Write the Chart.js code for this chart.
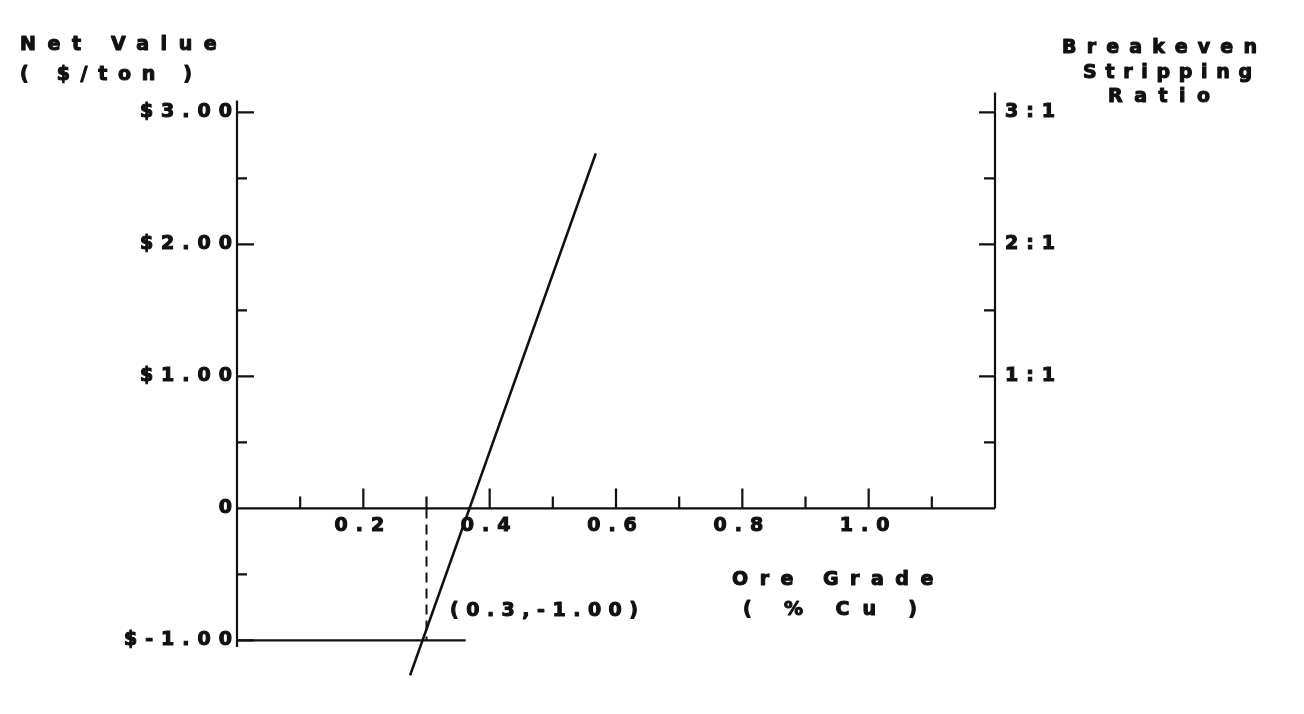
<!DOCTYPE html>
<html>
<head>
<meta charset="utf-8">
<title>Net Value vs Ore Grade</title>
<script src="https://cdn.jsdelivr.net/npm/chart.js@4.4.1/dist/chart.umd.min.js"></script>
<style>
  html, body { margin: 0; padding: 0; background: #fff; }
  #wrap { position: relative; width: 1304px; height: 714px; }
</style>
</head>
<body>
<div id="wrap"><canvas id="chart"></canvas></div>
<script>
// --- Data ---
// Ore grade axis (% Cu)
const gradeTicks = [0.1, 0.2, 0.3, 0.4, 0.5, 0.6, 0.7, 0.8, 0.9, 1.0, 1.1];
const gradeLabels = ['', '0.2', '', '0.4', '', '0.6', '', '0.8', '', '1.0', ''];
// Net value axis ($/ton)
const valueTicks = [-1, -0.5, 0, 0.5, 1, 1.5, 2, 2.5, 3];
const valueLabels = ['$-1.00', '', '0', '', '$1.00', '', '$2.00', '', '$3.00'];
// Breakeven stripping ratio axis
const ratioTicks = [0.5, 1, 1.5, 2, 2.5, 3];
const ratioLabels = ['', '1:1', '', '2:1', '', '3:1'];

// Net value line
const netGrade = [0.274, 0.568];
const netValue = [-1.265, 2.69];

// Cut-off grade marker (dashed) and the -1.00 reference line
const cutoffGrade = [0.3, 0.3];
const cutoffValue = [0, -1.0];
const lossGrade = [0, 0.362];
const lossValue = [-1.0, -1.0];

// --- Style ---
const ink = '#111';
const fontFamily = '"DejaVu Sans", Verdana, sans-serif';
const tickFont = { family: fontFamily, size: 19, weight: 'bold' };
const tickSpacing = '8px';

// extent of the drawn axis lines (in data units)
const gradeMax = 1.2;
const leftAxisFrom = -1.05, leftAxisTo = 3.09;
const rightAxisTo = 3.15;

const titles = [
  { text: 'Net Value', x: 20, y: 45, w: 197 },
  { text: '( $/ton )', x: 20, y: 75, w: 172 },
  { text: 'Breakeven', x: 1062, y: 48, w: 195 },
  { text: 'Stripping', x: 1083, y: 73, w: 169 },
  { text: 'Ratio', x: 1108, y: 97, w: 102 },
  { text: 'Ore Grade', x: 732, y: 580, w: 201 },
  { text: '( % Cu )', x: 743, y: 610, w: 174 },
  { text: '(0.3,-1.00)', x: 450, y: 611, w: 188 }
];

function pts(xs, ys) {
  return xs.map((v, i) => ({ x: v, y: ys[i] }));
}

// axes, tick marks and captions in the old plotter style
const plotterAxes = {
  id: 'plotterAxes',
  beforeDraw(chart) {
    chart.ctx.letterSpacing = tickSpacing;
  },
  beforeDatasetsDraw(chart) {
    const { ctx } = chart;
    const { x, y, y2 } = chart.scales;
    const x0 = x.getPixelForValue(0);
    const x1 = x.getPixelForValue(gradeMax);
    const yZero = y.getPixelForValue(0);

    ctx.save();
    ctx.strokeStyle = ink;
    ctx.lineWidth = 2.2;
    ctx.beginPath();
    ctx.moveTo(x0, y.getPixelForValue(leftAxisFrom));
    ctx.lineTo(x0, y.getPixelForValue(leftAxisTo));
    ctx.moveTo(x0, yZero);
    ctx.lineTo(x1, yZero);
    ctx.moveTo(x1, y2.getPixelForValue(0));
    ctx.lineTo(x1, y2.getPixelForValue(rightAxisTo));

    gradeTicks.forEach((v, i) => {
      const px = x.getPixelForValue(v);
      ctx.moveTo(px, yZero);
      ctx.lineTo(px, yZero - (gradeLabels[i] ? 20 : 12));
    });
    valueTicks.forEach((v, i) => {
      if (v === 0) return;
      const py = y.getPixelForValue(v);
      ctx.moveTo(x0, py);
      ctx.lineTo(x0 + (valueLabels[i] ? 17 : 10), py);
    });
    ratioTicks.forEach((v, i) => {
      const py = y2.getPixelForValue(v);
      ctx.moveTo(x1, py);
      ctx.lineTo(x1 - (ratioLabels[i] ? 16 : 11), py);
    });
    ctx.stroke();
    ctx.restore();
  },
  afterDraw(chart) {
    const { ctx } = chart;
    ctx.save();
    ctx.fillStyle = ink;
    ctx.strokeStyle = ink;
    ctx.lineWidth = 1.1;
    ctx.lineJoin = 'round';
    ctx.font = 'bold 19px ' + fontFamily;
    ctx.textAlign = 'left';
    ctx.textBaseline = 'middle';
    titles.forEach(t => {
      ctx.letterSpacing = '0px';
      const natural = ctx.measureText(t.text).width;
      const gap = Math.max(0, (t.w - natural) / (t.text.length - 1));
      ctx.letterSpacing = gap.toFixed(1) + 'px';
      ctx.fillText(t.text, t.x, t.y);
      ctx.strokeText(t.text, t.x, t.y);
    });
    ctx.restore();
  }
};

Chart.defaults.color = ink;
Chart.defaults.font.family = fontFamily;

const tickText = { font: tickFont, textStrokeColor: ink, textStrokeWidth: 1.1, autoSkip: false };

new Chart(document.getElementById('chart'), {
  type: 'scatter',
  data: {
    datasets: [
      {
        label: 'Net value',
        data: pts(netGrade, netValue),
        showLine: true,
        borderColor: ink,
        borderWidth: 2.6,
        pointRadius: 0
      },
      {
        label: 'Cut-off grade',
        data: pts(cutoffGrade, cutoffValue),
        showLine: true,
        borderColor: ink,
        borderWidth: 2,
        borderDash: [10, 6],
        pointRadius: 0
      },
      {
        label: 'Net value at cut-off',
        data: pts(lossGrade, lossValue),
        showLine: true,
        borderColor: ink,
        borderWidth: 2.4,
        pointRadius: 0
      }
    ]
  },
  options: {
    responsive: true,
    maintainAspectRatio: false,
    animation: false,
    layout: { padding: { top: 86, bottom: 34, left: 0, right: 0 } },
    plugins: {
      legend: { display: false },
      tooltip: { enabled: false }
    },
    scales: {
      x: {
        type: 'linear',
        min: 0,
        max: gradeMax,
        position: { y: 0 },
        afterBuildTicks: s => { s.ticks = gradeTicks.map(v => ({ value: v })); },
        ticks: {
          ...tickText,
          callback: (v, i) => gradeLabels[i],
          padding: 6,
          maxRotation: 0
        },
        grid: { display: false, drawTicks: false },
        border: { display: false }
      },
      y: {
        type: 'linear',
        position: 'left',
        min: -1.3,
        max: 3.2,
        afterBuildTicks: s => { s.ticks = valueTicks.map(v => ({ value: v })); },
        afterFit: s => { s.width = 237; },
        ticks: {
          ...tickText,
          callback: (v, i) => valueLabels[i],
          padding: -3
        },
        grid: { display: false, drawTicks: false },
        border: { display: false }
      },
      y2: {
        type: 'linear',
        position: 'right',
        min: -1.3,
        max: 3.2,
        afterBuildTicks: s => { s.ticks = ratioTicks.map(v => ({ value: v })); },
        afterFit: s => { s.width = 309; },
        ticks: {
          ...tickText,
          callback: (v, i) => ratioLabels[i],
          padding: 10
        },
        grid: { display: false, drawTicks: false, drawOnChartArea: false },
        border: { display: false }
      }
    }
  },
  plugins: [plotterAxes]
});
</script>
</body>
</html>
